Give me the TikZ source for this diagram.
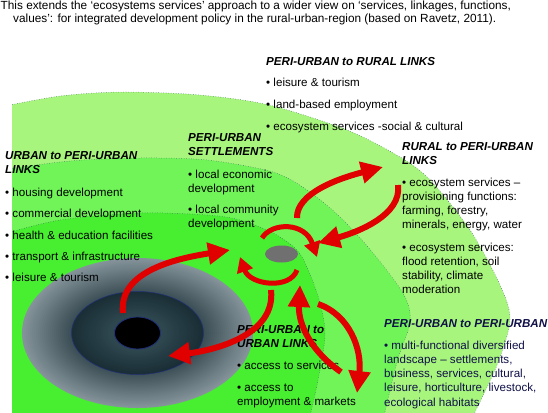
\documentclass[tikz,border=0pt]{standalone}
\usepackage{fontspec}
\setmainfont{Liberation Sans}
\usetikzlibrary{arrows.meta,shapes.geometric}
\definecolor{gOuter}{HTML}{A8F57D}
\definecolor{gMid}{HTML}{70F458}
\definecolor{gIn}{HTML}{48EE30}
\definecolor{bndcol}{HTML}{3A5A6A}
\definecolor{ringlight}{HTML}{84949A}
\definecolor{ringdark}{HTML}{3C4E55}
\definecolor{coreedge}{HTML}{1A2E36}
\definecolor{coreinner}{HTML}{2E464E}
\definecolor{edgeblue}{HTML}{20307A}
\definecolor{arrowred}{HTML}{E00000}
\definecolor{navytext}{HTML}{101048}
\definecolor{settlegrey}{HTML}{707070}
\tikzset{
  txt/.style={anchor=base west, inner sep=0pt, align=left, font=\fontsize{11.6bp}{14.3bp}\selectfont},
  hdr/.style={txt, font=\fontsize{11.6bp}{14.3bp}\selectfont\bfseries\itshape},
  titletxt/.style={anchor=base west, inner sep=0pt, align=left, font=\fontsize{11.8bp}{13.7bp}\selectfont},
  bnd/.style={draw=bndcol, dotted, line width=0.5bp},
  bigarrow/.style={draw=arrowred, line width=6bp, -{Triangle[length=22bp,width=21bp]}},
  smallarrow/.style={draw=arrowred, line width=5bp, -{Triangle[length=15bp,width=16bp]}},
}
\begin{document}
\begin{tikzpicture}[x=1bp,y=-1bp]
\useasboundingbox (0,0) rectangle (548,412);
% green zones
\begin{scope}
\clip (12,0) rectangle (548,412);
\path[fill=gOuter, bnd] plot[smooth] coordinates {(0,107) (60,96) (122,92) (200,95) (269,105) (347,130) (400,157) (430,180) (470,230) (500,285) (510,320) (497,365) (473,416)} -- (0,416) -- cycle;
\path[fill=gMid, bnd] plot[smooth] coordinates {(0,170) (70,161) (140,158) (207,160) (273,172) (307,190) (340,217) (373,253) (404,295) (410,322) (397,362) (384,416)} -- (0,416) -- cycle;
\path[fill=gIn, bnd] plot[smooth] coordinates {(0,235) (60,220) (140,213) (207,215) (240,220) (273,233) (297,250) (309,272) (320,303) (325,335) (318,380) (310,416)} -- (0,416) -- cycle;
\end{scope}
% city: outer grey ring, graded from the light edge to the dark inside
\coordinate (city) at (137.5,333);
\foreach \i in {0,...,24}{
  \pgfmathsetmacro{\pct}{\i*100/24}
  \pgfmathsetmacro{\rx}{115.5-\i*2}
  \pgfmathsetmacro{\ry}{75-\i*34/24}
  \fill[ringdark!\pct!ringlight] (city) ellipse [x radius=\rx bp, y radius=\ry bp];
}
% dark core
\foreach \i in {0,...,16}{
  \pgfmathsetmacro{\pct}{\i*100/16}
  \pgfmathsetmacro{\rx}{66-\i*2.4}
  \pgfmathsetmacro{\ry}{41.5-\i*1.45}
  \fill[coreinner!\pct!coreedge] (city) ellipse [x radius=\rx bp, y radius=\ry bp];
}
\draw[edgeblue, line width=0.5bp] (city) ellipse [x radius=66bp, y radius=41.5bp];
\path[fill=black, draw=edgeblue, line width=0.8bp] (city) ellipse [x radius=23bp, y radius=16bp];
% settlement
\node[ellipse, fill=settlegrey, minimum width=33bp, minimum height=17bp, inner sep=0pt] (settle) at (281.5,254) {};
% title (base anchor = last line)
\node[titletxt] (title) at (0.5,22.7) {This extends the ‘ecosystems services’ approach to a wider view on ‘services, linkages, functions,\\\hspace*{12.5bp}values’: for integrated development policy in the rural-urban-region (based on Ravetz, 2011).};
% peri-urban to rural
\node[hdr] (hPR) at (266,65) {PERI-URBAN to RURAL LINKS};
\node[txt] (pr1) at (266,86) {• leisure \& tourism};
\node[txt] (pr2) at (266,108) {• land-based employment};
\node[txt] (pr3) at (266,130) {• ecosystem services -social \& cultural};
% peri-urban settlements
\node[hdr] (hPS) at (188,155.3) {PERI-URBAN\\SETTLEMENTS};
\node[txt] (ps1) at (188,192.3) {• local economic\\development};
\node[txt] (ps2) at (188,227.3) {• local community\\development};
% urban to peri-urban
\node[hdr] (hUP) at (5,173.3) {URBAN to PERI-URBAN\\LINKS};
\node[txt] (up1) at (5,196) {• housing development};
\node[txt] (up2) at (5,217) {• commercial development};
\node[txt] (up3) at (5,239) {• health \& education facilities};
\node[txt] (up4) at (5,260) {• transport \& infrastructure};
\node[txt] (up5) at (5,281) {• leisure \& tourism};
% rural to peri-urban
\node[hdr] (hRP) at (402,164.3) {RURAL to PERI-URBAN\\LINKS};
\node[txt] (rp1) at (402,228.9) {• ecosystem services –\\provisioning functions:\\farming, forestry,\\minerals, energy, water};
\node[txt] (rp2) at (402,293.9) {• ecosystem services:\\flood retention, soil\\stability, climate\\moderation};
% peri-urban to peri-urban
\node[hdr, text=navytext] (hPP) at (384,327) {PERI-URBAN to PERI-URBAN};
\node[txt, text=navytext] (pp1) at (384,406.2) {• multi-functional diversified\\landscape – settlements,\\business, services, cultural,\\leisure, horticulture, livestock,\\ecological habitats};
% peri-urban to urban
\node[hdr] (hPU) at (237,347.3) {PERI-URBAN to\\URBAN LINKS};
\node[txt] (pu1) at (237,369) {• access to services};
\node[txt] (pu2) at (237,405.3) {• access to\\employment \& markets};
% arrow end points
\coordinate (aT) at (297,218); \coordinate (aH) at (383,167);
\coordinate (bT) at (398,185); \coordinate (bH) at (318,243);
\coordinate (cT) at (262,238); \coordinate (cH) at (317,257);
\coordinate (dT) at (297,270); \coordinate (dH) at (240,257);
\coordinate (eT) at (123,313); \coordinate (eH) at (230,250);
\coordinate (fT) at (271,290); \coordinate (fH) at (168,356);
\coordinate (gT) at (341,372); \coordinate (gH) at (300,285);
\coordinate (hT) at (318,304); \coordinate (hH) at (357,393);
% arrows
\draw[bigarrow] (aT) .. controls (296,193) and (340,178) .. (aH);
\draw[bigarrow] (bT) .. controls (402,215) and (358,232) .. (bH);
\draw[smallarrow] (cT) .. controls (272,222) and (305,222) .. (cH);
\draw[smallarrow] (dT) .. controls (290,290) and (250,285) .. (dH);
\draw[bigarrow] (eT) .. controls (118,270) and (180,258) .. (eH);
\draw[bigarrow] (fT) .. controls (276,335) and (215,350) .. (fH);
\draw[bigarrow] (gT) .. controls (312,352) and (298,325) .. (gH);
\draw[bigarrow] (hT) .. controls (350,315) and (362,350) .. (hH);
\end{tikzpicture}
\end{document}
